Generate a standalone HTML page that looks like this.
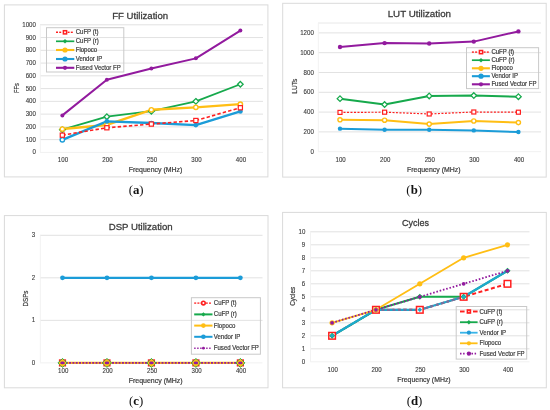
<!DOCTYPE html>
<html><head><meta charset="utf-8"><title>Charts</title>
<style>html,body{margin:0;padding:0;background:#fff;width:550px;height:410px;overflow:hidden}svg{display:block;will-change:transform}</style>
</head><body>
<svg width="550" height="410" viewBox="0 0 550 410">
<rect width="550" height="410" fill="#fff"/>
<rect x="4.40" y="4.90" width="263.50" height="172.00" fill="none" stroke="#DADADA" stroke-width="1"/>
<text x="140.20" y="19.30" font-size="9.7" text-anchor="middle" fill="#3a3a3a" stroke="#3a3a3a" stroke-width="0.28" font-family='"Liberation Sans", sans-serif' font-weight="normal" textLength="56.00" lengthAdjust="spacingAndGlyphs" >FF Utilization</text>
<line x1="40.00" y1="152.40" x2="263.00" y2="152.40" stroke="#F1F1F1" stroke-width="1" stroke-linecap="butt"/>
<text x="35.90" y="154.45"  font-size="6.8" text-anchor="end" fill="#3a3a3a" stroke="#3a3a3a" stroke-width="0.12" font-family='"Liberation Sans", sans-serif' textLength="3.40" lengthAdjust="spacingAndGlyphs">0</text>
<line x1="40.00" y1="139.64" x2="263.00" y2="139.64" stroke="#E2E2E2" stroke-width="1" stroke-linecap="butt"/>
<text x="35.90" y="141.69"  font-size="6.8" text-anchor="end" fill="#3a3a3a" stroke="#3a3a3a" stroke-width="0.12" font-family='"Liberation Sans", sans-serif' textLength="10.20" lengthAdjust="spacingAndGlyphs">100</text>
<line x1="40.00" y1="126.88" x2="263.00" y2="126.88" stroke="#E2E2E2" stroke-width="1" stroke-linecap="butt"/>
<text x="35.90" y="128.93"  font-size="6.8" text-anchor="end" fill="#3a3a3a" stroke="#3a3a3a" stroke-width="0.12" font-family='"Liberation Sans", sans-serif' textLength="10.20" lengthAdjust="spacingAndGlyphs">200</text>
<line x1="40.00" y1="114.12" x2="263.00" y2="114.12" stroke="#E2E2E2" stroke-width="1" stroke-linecap="butt"/>
<text x="35.90" y="116.17"  font-size="6.8" text-anchor="end" fill="#3a3a3a" stroke="#3a3a3a" stroke-width="0.12" font-family='"Liberation Sans", sans-serif' textLength="10.20" lengthAdjust="spacingAndGlyphs">300</text>
<line x1="40.00" y1="101.36" x2="263.00" y2="101.36" stroke="#E2E2E2" stroke-width="1" stroke-linecap="butt"/>
<text x="35.90" y="103.41"  font-size="6.8" text-anchor="end" fill="#3a3a3a" stroke="#3a3a3a" stroke-width="0.12" font-family='"Liberation Sans", sans-serif' textLength="10.20" lengthAdjust="spacingAndGlyphs">400</text>
<line x1="40.00" y1="88.60" x2="263.00" y2="88.60" stroke="#E2E2E2" stroke-width="1" stroke-linecap="butt"/>
<text x="35.90" y="90.65"  font-size="6.8" text-anchor="end" fill="#3a3a3a" stroke="#3a3a3a" stroke-width="0.12" font-family='"Liberation Sans", sans-serif' textLength="10.20" lengthAdjust="spacingAndGlyphs">500</text>
<line x1="40.00" y1="75.84" x2="263.00" y2="75.84" stroke="#E2E2E2" stroke-width="1" stroke-linecap="butt"/>
<text x="35.90" y="77.89"  font-size="6.8" text-anchor="end" fill="#3a3a3a" stroke="#3a3a3a" stroke-width="0.12" font-family='"Liberation Sans", sans-serif' textLength="10.20" lengthAdjust="spacingAndGlyphs">600</text>
<line x1="40.00" y1="63.08" x2="263.00" y2="63.08" stroke="#E2E2E2" stroke-width="1" stroke-linecap="butt"/>
<text x="35.90" y="65.13"  font-size="6.8" text-anchor="end" fill="#3a3a3a" stroke="#3a3a3a" stroke-width="0.12" font-family='"Liberation Sans", sans-serif' textLength="10.20" lengthAdjust="spacingAndGlyphs">700</text>
<line x1="40.00" y1="50.32" x2="263.00" y2="50.32" stroke="#E2E2E2" stroke-width="1" stroke-linecap="butt"/>
<text x="35.90" y="52.37"  font-size="6.8" text-anchor="end" fill="#3a3a3a" stroke="#3a3a3a" stroke-width="0.12" font-family='"Liberation Sans", sans-serif' textLength="10.20" lengthAdjust="spacingAndGlyphs">800</text>
<line x1="40.00" y1="37.56" x2="263.00" y2="37.56" stroke="#E2E2E2" stroke-width="1" stroke-linecap="butt"/>
<text x="35.90" y="39.61"  font-size="6.8" text-anchor="end" fill="#3a3a3a" stroke="#3a3a3a" stroke-width="0.12" font-family='"Liberation Sans", sans-serif' textLength="10.20" lengthAdjust="spacingAndGlyphs">900</text>
<line x1="40.00" y1="24.80" x2="263.00" y2="24.80" stroke="#E2E2E2" stroke-width="1" stroke-linecap="butt"/>
<text x="35.90" y="26.85"  font-size="6.8" text-anchor="end" fill="#3a3a3a" stroke="#3a3a3a" stroke-width="0.12" font-family='"Liberation Sans", sans-serif' textLength="13.60" lengthAdjust="spacingAndGlyphs">1000</text>
<line x1="40.30" y1="24.80" x2="40.30" y2="152.40" stroke="#F2F2F2" stroke-width="1" stroke-linecap="butt"/>
<text x="62.95" y="161.90"  font-size="6.8" text-anchor="middle" fill="#3a3a3a" stroke="#3a3a3a" stroke-width="0.12" font-family='"Liberation Sans", sans-serif' textLength="10.20" lengthAdjust="spacingAndGlyphs">100</text>
<text x="107.45" y="161.90"  font-size="6.8" text-anchor="middle" fill="#3a3a3a" stroke="#3a3a3a" stroke-width="0.12" font-family='"Liberation Sans", sans-serif' textLength="10.20" lengthAdjust="spacingAndGlyphs">200</text>
<text x="151.95" y="161.90"  font-size="6.8" text-anchor="middle" fill="#3a3a3a" stroke="#3a3a3a" stroke-width="0.12" font-family='"Liberation Sans", sans-serif' textLength="10.20" lengthAdjust="spacingAndGlyphs">250</text>
<text x="196.45" y="161.90"  font-size="6.8" text-anchor="middle" fill="#3a3a3a" stroke="#3a3a3a" stroke-width="0.12" font-family='"Liberation Sans", sans-serif' textLength="10.20" lengthAdjust="spacingAndGlyphs">300</text>
<text x="240.95" y="161.90"  font-size="6.8" text-anchor="middle" fill="#3a3a3a" stroke="#3a3a3a" stroke-width="0.12" font-family='"Liberation Sans", sans-serif' textLength="10.20" lengthAdjust="spacingAndGlyphs">400</text>
<text x="155.55" y="171.80" font-size="7" text-anchor="middle" fill="#3a3a3a" stroke="#3a3a3a" stroke-width="0.2" font-family='"Liberation Sans", sans-serif' font-weight="normal" textLength="53.70" lengthAdjust="spacingAndGlyphs" >Frequency (MHz)</text>
<text x="0" y="0" font-size="7" text-anchor="middle" dominant-baseline="central" fill="#3a3a3a" stroke="#3a3a3a" stroke-width="0.2" font-family='"Liberation Sans", sans-serif' transform="translate(16.00,88.00) rotate(-90)" textLength="9.80" lengthAdjust="spacingAndGlyphs">FFs</text>
<polyline points="62.35,115.40 106.85,79.67 151.35,68.57 195.85,58.36 240.35,30.54" fill="none" stroke="#921A9E" stroke-width="2" stroke-linecap="butt" stroke-linejoin="round"/>
<polyline points="62.35,129.69 106.85,116.67 151.35,111.19 195.85,101.36 240.35,84.26" fill="none" stroke="#16A94C" stroke-width="1.8" stroke-linecap="butt" stroke-linejoin="round"/>
<polyline points="62.35,129.05 106.85,124.97 151.35,109.78 195.85,107.36 240.35,104.17" fill="none" stroke="#FFBE14" stroke-width="2.4" stroke-linecap="butt" stroke-linejoin="round"/>
<polyline points="62.35,139.77 106.85,121.39 151.35,123.05 195.85,125.09 240.35,111.44" fill="none" stroke="#1B9CD8" stroke-width="2.4" stroke-linecap="butt" stroke-linejoin="round"/>
<polyline points="62.35,135.17 106.85,127.77 151.35,124.07 195.85,120.50 240.35,107.74" fill="none" stroke="#FF1F1F" stroke-width="1.6" stroke-dasharray="3.4,2.2" stroke-linecap="butt" stroke-linejoin="round"/>
<circle cx="62.35" cy="115.40" r="2" fill="#921A9E" stroke="none" stroke-width="0"/>
<circle cx="106.85" cy="79.67" r="2" fill="#921A9E" stroke="none" stroke-width="0"/>
<circle cx="151.35" cy="68.57" r="2" fill="#921A9E" stroke="none" stroke-width="0"/>
<circle cx="195.85" cy="58.36" r="2" fill="#921A9E" stroke="none" stroke-width="0"/>
<circle cx="240.35" cy="30.54" r="2" fill="#921A9E" stroke="none" stroke-width="0"/>
<polygon points="62.35,126.89 65.15,129.69 62.35,132.49 59.55,129.69" fill="#fff" stroke="#16A94C" stroke-width="1.3"/>
<polygon points="106.85,113.87 109.65,116.67 106.85,119.47 104.05,116.67" fill="#fff" stroke="#16A94C" stroke-width="1.3"/>
<polygon points="151.35,108.39 154.15,111.19 151.35,113.99 148.55,111.19" fill="#fff" stroke="#16A94C" stroke-width="1.3"/>
<polygon points="195.85,98.56 198.65,101.36 195.85,104.16 193.05,101.36" fill="#fff" stroke="#16A94C" stroke-width="1.3"/>
<polygon points="240.35,81.46 243.15,84.26 240.35,87.06 237.55,84.26" fill="#fff" stroke="#16A94C" stroke-width="1.3"/>
<circle cx="62.35" cy="129.05" r="2.2" fill="#fff" stroke="#FFBE14" stroke-width="1.4"/>
<circle cx="106.85" cy="124.97" r="2.2" fill="#fff" stroke="#FFBE14" stroke-width="1.4"/>
<circle cx="151.35" cy="109.78" r="2.2" fill="#fff" stroke="#FFBE14" stroke-width="1.4"/>
<circle cx="195.85" cy="107.36" r="2.2" fill="#fff" stroke="#FFBE14" stroke-width="1.4"/>
<circle cx="240.35" cy="104.17" r="2.2" fill="#fff" stroke="#FFBE14" stroke-width="1.4"/>
<circle cx="62.35" cy="139.77" r="2.2" fill="#fff" stroke="#1B9CD8" stroke-width="1.4"/>
<circle cx="106.85" cy="121.39" r="2.4" fill="#1B9CD8" stroke="none" stroke-width="0"/>
<circle cx="151.35" cy="123.05" r="2.4" fill="#1B9CD8" stroke="none" stroke-width="0"/>
<circle cx="195.85" cy="125.09" r="2.4" fill="#1B9CD8" stroke="none" stroke-width="0"/>
<circle cx="240.35" cy="111.44" r="2.4" fill="#1B9CD8" stroke="none" stroke-width="0"/>
<rect x="60.25" y="133.07" width="4.20" height="4.20" fill="#fff" stroke="#FF1F1F" stroke-width="1.2"/>
<rect x="104.75" y="125.67" width="4.20" height="4.20" fill="#fff" stroke="#FF1F1F" stroke-width="1.2"/>
<rect x="149.25" y="121.97" width="4.20" height="4.20" fill="#fff" stroke="#FF1F1F" stroke-width="1.2"/>
<rect x="193.75" y="118.40" width="4.20" height="4.20" fill="#fff" stroke="#FF1F1F" stroke-width="1.2"/>
<rect x="238.25" y="105.64" width="4.20" height="4.20" fill="#fff" stroke="#FF1F1F" stroke-width="1.2"/>
<rect x="46.50" y="27.70" width="77.30" height="44.30" fill="none" stroke="#C9C9C9" stroke-width="1"/>
<line x1="56.00" y1="32.30" x2="58.00" y2="32.30" stroke="#FF1F1F" stroke-width="1.4" stroke-linecap="butt"/>
<line x1="59.20" y1="32.30" x2="61.20" y2="32.30" stroke="#FF1F1F" stroke-width="1.4" stroke-linecap="butt"/>
<line x1="67.60" y1="32.30" x2="69.60" y2="32.30" stroke="#FF1F1F" stroke-width="1.4" stroke-linecap="butt"/>
<line x1="70.80" y1="32.30" x2="72.80" y2="32.30" stroke="#FF1F1F" stroke-width="1.4" stroke-linecap="butt"/>
<rect x="63.40" y="30.70" width="3.20" height="3.20" fill="#fff" stroke="#FF1F1F" stroke-width="1.5"/>
<text x="75.70" y="34.30" font-size="6.6" fill="#3a3a3a" stroke="#3a3a3a" stroke-width="0.2" font-family='"Liberation Sans", sans-serif' textLength="22.74" lengthAdjust="spacingAndGlyphs">CuFP (t)</text>
<line x1="56.00" y1="41.30" x2="74.30" y2="41.30" stroke="#16A94C" stroke-width="1.7" stroke-linecap="butt"/>
<polygon points="65.00,39.00 67.30,41.30 65.00,43.60 62.70,41.30" fill="#16A94C" stroke="#16A94C" stroke-width="0"/>
<text x="75.70" y="43.30" font-size="6.6" fill="#3a3a3a" stroke="#3a3a3a" stroke-width="0.2" font-family='"Liberation Sans", sans-serif' textLength="23.08" lengthAdjust="spacingAndGlyphs">CuFP (r)</text>
<line x1="56.00" y1="50.00" x2="74.30" y2="50.00" stroke="#FFBE14" stroke-width="2.1" stroke-linecap="butt"/>
<circle cx="65.00" cy="50.00" r="2.6" fill="#FFBE14" stroke="none" stroke-width="0"/>
<text x="75.70" y="52.00" font-size="6.6" fill="#3a3a3a" stroke="#3a3a3a" stroke-width="0.2" font-family='"Liberation Sans", sans-serif' textLength="21.52" lengthAdjust="spacingAndGlyphs">Flopoco</text>
<line x1="56.00" y1="59.00" x2="74.30" y2="59.00" stroke="#1B9CD8" stroke-width="2.1" stroke-linecap="butt"/>
<circle cx="65.00" cy="59.00" r="2.6" fill="#1B9CD8" stroke="none" stroke-width="0"/>
<text x="75.70" y="61.00" font-size="6.6" fill="#3a3a3a" stroke="#3a3a3a" stroke-width="0.2" font-family='"Liberation Sans", sans-serif' textLength="26.57" lengthAdjust="spacingAndGlyphs">Vendor IP</text>
<line x1="56.00" y1="67.80" x2="74.30" y2="67.80" stroke="#921A9E" stroke-width="2.1" stroke-linecap="butt"/>
<circle cx="65.00" cy="67.80" r="2.1" fill="#921A9E" stroke="none" stroke-width="0"/>
<text x="75.70" y="69.80" font-size="6.6" fill="#3a3a3a" stroke="#3a3a3a" stroke-width="0.2" font-family='"Liberation Sans", sans-serif' textLength="45.06" lengthAdjust="spacingAndGlyphs">Fused Vector FP</text>
<rect x="282.70" y="3.30" width="263.50" height="173.80" fill="none" stroke="#DADADA" stroke-width="1"/>
<text x="419.35" y="17.00" font-size="9.7" text-anchor="middle" fill="#3a3a3a" stroke="#3a3a3a" stroke-width="0.28" font-family='"Liberation Sans", sans-serif' font-weight="normal" textLength="63.30" lengthAdjust="spacingAndGlyphs" >LUT Utilization</text>
<line x1="318.00" y1="23.00" x2="541.00" y2="23.00" stroke="#E8E8E8" stroke-width="1" stroke-linecap="butt"/>
<line x1="318.00" y1="151.70" x2="541.00" y2="151.70" stroke="#F1F1F1" stroke-width="1" stroke-linecap="butt"/>
<text x="313.80" y="153.75"  font-size="6.8" text-anchor="end" fill="#3a3a3a" stroke="#3a3a3a" stroke-width="0.12" font-family='"Liberation Sans", sans-serif' textLength="3.40" lengthAdjust="spacingAndGlyphs">0</text>
<line x1="318.00" y1="131.90" x2="541.00" y2="131.90" stroke="#E2E2E2" stroke-width="1" stroke-linecap="butt"/>
<text x="313.80" y="133.95"  font-size="6.8" text-anchor="end" fill="#3a3a3a" stroke="#3a3a3a" stroke-width="0.12" font-family='"Liberation Sans", sans-serif' textLength="10.20" lengthAdjust="spacingAndGlyphs">200</text>
<line x1="318.00" y1="112.10" x2="541.00" y2="112.10" stroke="#E2E2E2" stroke-width="1" stroke-linecap="butt"/>
<text x="313.80" y="114.15"  font-size="6.8" text-anchor="end" fill="#3a3a3a" stroke="#3a3a3a" stroke-width="0.12" font-family='"Liberation Sans", sans-serif' textLength="10.20" lengthAdjust="spacingAndGlyphs">400</text>
<line x1="318.00" y1="92.30" x2="541.00" y2="92.30" stroke="#E2E2E2" stroke-width="1" stroke-linecap="butt"/>
<text x="313.80" y="94.35"  font-size="6.8" text-anchor="end" fill="#3a3a3a" stroke="#3a3a3a" stroke-width="0.12" font-family='"Liberation Sans", sans-serif' textLength="10.20" lengthAdjust="spacingAndGlyphs">600</text>
<line x1="318.00" y1="72.50" x2="541.00" y2="72.50" stroke="#E2E2E2" stroke-width="1" stroke-linecap="butt"/>
<text x="313.80" y="74.55"  font-size="6.8" text-anchor="end" fill="#3a3a3a" stroke="#3a3a3a" stroke-width="0.12" font-family='"Liberation Sans", sans-serif' textLength="10.20" lengthAdjust="spacingAndGlyphs">800</text>
<line x1="318.00" y1="52.70" x2="541.00" y2="52.70" stroke="#E2E2E2" stroke-width="1" stroke-linecap="butt"/>
<text x="313.80" y="54.75"  font-size="6.8" text-anchor="end" fill="#3a3a3a" stroke="#3a3a3a" stroke-width="0.12" font-family='"Liberation Sans", sans-serif' textLength="13.60" lengthAdjust="spacingAndGlyphs">1000</text>
<line x1="318.00" y1="32.90" x2="541.00" y2="32.90" stroke="#E2E2E2" stroke-width="1" stroke-linecap="butt"/>
<text x="313.80" y="34.95"  font-size="6.8" text-anchor="end" fill="#3a3a3a" stroke="#3a3a3a" stroke-width="0.12" font-family='"Liberation Sans", sans-serif' textLength="13.60" lengthAdjust="spacingAndGlyphs">1200</text>
<line x1="318.30" y1="23.00" x2="318.30" y2="151.70" stroke="#F2F2F2" stroke-width="1" stroke-linecap="butt"/>
<text x="340.60" y="161.90"  font-size="6.8" text-anchor="middle" fill="#3a3a3a" stroke="#3a3a3a" stroke-width="0.12" font-family='"Liberation Sans", sans-serif' textLength="10.20" lengthAdjust="spacingAndGlyphs">100</text>
<text x="385.20" y="161.90"  font-size="6.8" text-anchor="middle" fill="#3a3a3a" stroke="#3a3a3a" stroke-width="0.12" font-family='"Liberation Sans", sans-serif' textLength="10.20" lengthAdjust="spacingAndGlyphs">200</text>
<text x="429.80" y="161.90"  font-size="6.8" text-anchor="middle" fill="#3a3a3a" stroke="#3a3a3a" stroke-width="0.12" font-family='"Liberation Sans", sans-serif' textLength="10.20" lengthAdjust="spacingAndGlyphs">250</text>
<text x="474.40" y="161.90"  font-size="6.8" text-anchor="middle" fill="#3a3a3a" stroke="#3a3a3a" stroke-width="0.12" font-family='"Liberation Sans", sans-serif' textLength="10.20" lengthAdjust="spacingAndGlyphs">300</text>
<text x="519.00" y="161.90"  font-size="6.8" text-anchor="middle" fill="#3a3a3a" stroke="#3a3a3a" stroke-width="0.12" font-family='"Liberation Sans", sans-serif' textLength="10.20" lengthAdjust="spacingAndGlyphs">400</text>
<text x="433.75" y="171.60" font-size="7" text-anchor="middle" fill="#3a3a3a" stroke="#3a3a3a" stroke-width="0.2" font-family='"Liberation Sans", sans-serif' font-weight="normal" textLength="53.50" lengthAdjust="spacingAndGlyphs" >Frequency (MHz)</text>
<text x="0" y="0" font-size="7" text-anchor="middle" dominant-baseline="central" fill="#3a3a3a" stroke="#3a3a3a" stroke-width="0.2" font-family='"Liberation Sans", sans-serif' transform="translate(294.50,86.20) rotate(-90)" textLength="15.00" lengthAdjust="spacingAndGlyphs">LUTs</text>
<polyline points="340.00,46.96 384.60,43.10 429.20,43.49 473.80,41.61 518.40,31.41" fill="none" stroke="#921A9E" stroke-width="2" stroke-linecap="butt" stroke-linejoin="round"/>
<polyline points="340.00,98.64 384.60,104.58 429.20,95.96 473.80,95.57 518.40,96.66" fill="none" stroke="#16A94C" stroke-width="2" stroke-linecap="butt" stroke-linejoin="round"/>
<polyline points="340.00,119.82 384.60,120.22 429.20,124.08 473.80,121.01 518.40,122.59" fill="none" stroke="#FFBE14" stroke-width="2" stroke-linecap="butt" stroke-linejoin="round"/>
<polyline points="340.00,128.63 384.60,129.82 429.20,129.82 473.80,130.41 518.40,132.00" fill="none" stroke="#1B9CD8" stroke-width="2" stroke-linecap="butt" stroke-linejoin="round"/>
<polyline points="340.00,112.40 384.60,112.20 429.20,113.98 473.80,112.00 518.40,112.20" fill="none" stroke="#FF1F1F" stroke-width="1.2" stroke-dasharray="2,1.5" stroke-linecap="butt" stroke-linejoin="round"/>
<circle cx="340.00" cy="46.96" r="2.2" fill="#921A9E" stroke="none" stroke-width="0"/>
<circle cx="384.60" cy="43.10" r="2.2" fill="#921A9E" stroke="none" stroke-width="0"/>
<circle cx="429.20" cy="43.49" r="2.2" fill="#921A9E" stroke="none" stroke-width="0"/>
<circle cx="473.80" cy="41.61" r="2.2" fill="#921A9E" stroke="none" stroke-width="0"/>
<circle cx="518.40" cy="31.41" r="2.2" fill="#921A9E" stroke="none" stroke-width="0"/>
<polygon points="340.00,95.84 342.80,98.64 340.00,101.44 337.20,98.64" fill="#fff" stroke="#16A94C" stroke-width="1.3"/>
<polygon points="384.60,101.78 387.40,104.58 384.60,107.38 381.80,104.58" fill="#fff" stroke="#16A94C" stroke-width="1.3"/>
<polygon points="429.20,93.16 432.00,95.96 429.20,98.76 426.40,95.96" fill="#fff" stroke="#16A94C" stroke-width="1.3"/>
<polygon points="473.80,92.77 476.60,95.57 473.80,98.37 471.00,95.57" fill="#fff" stroke="#16A94C" stroke-width="1.3"/>
<polygon points="518.40,93.86 521.20,96.66 518.40,99.46 515.60,96.66" fill="#fff" stroke="#16A94C" stroke-width="1.3"/>
<circle cx="340.00" cy="119.82" r="2.1" fill="#fff" stroke="#FFBE14" stroke-width="1.4"/>
<circle cx="384.60" cy="120.22" r="2.1" fill="#fff" stroke="#FFBE14" stroke-width="1.4"/>
<circle cx="429.20" cy="124.08" r="2.1" fill="#fff" stroke="#FFBE14" stroke-width="1.4"/>
<circle cx="473.80" cy="121.01" r="2.1" fill="#fff" stroke="#FFBE14" stroke-width="1.4"/>
<circle cx="518.40" cy="122.59" r="2.1" fill="#fff" stroke="#FFBE14" stroke-width="1.4"/>
<circle cx="340.00" cy="128.63" r="2.2" fill="#1B9CD8" stroke="none" stroke-width="0"/>
<circle cx="384.60" cy="129.82" r="2.2" fill="#1B9CD8" stroke="none" stroke-width="0"/>
<circle cx="429.20" cy="129.82" r="2.2" fill="#1B9CD8" stroke="none" stroke-width="0"/>
<circle cx="473.80" cy="130.41" r="2.2" fill="#1B9CD8" stroke="none" stroke-width="0"/>
<circle cx="518.40" cy="132.00" r="2.2" fill="#1B9CD8" stroke="none" stroke-width="0"/>
<rect x="338.00" y="110.40" width="4.00" height="4.00" fill="#fff" stroke="#FF1F1F" stroke-width="1.2"/>
<rect x="382.60" y="110.20" width="4.00" height="4.00" fill="#fff" stroke="#FF1F1F" stroke-width="1.2"/>
<rect x="427.20" y="111.98" width="4.00" height="4.00" fill="#fff" stroke="#FF1F1F" stroke-width="1.2"/>
<rect x="471.80" y="110.00" width="4.00" height="4.00" fill="#fff" stroke="#FF1F1F" stroke-width="1.2"/>
<rect x="516.40" y="110.20" width="4.00" height="4.00" fill="#fff" stroke="#FF1F1F" stroke-width="1.2"/>
<rect x="466.50" y="47.70" width="72.10" height="40.90" fill="none" stroke="#C9C9C9" stroke-width="1"/>
<line x1="471.90" y1="52.10" x2="473.90" y2="52.10" stroke="#FF1F1F" stroke-width="1.4" stroke-linecap="butt"/>
<line x1="475.10" y1="52.10" x2="477.10" y2="52.10" stroke="#FF1F1F" stroke-width="1.4" stroke-linecap="butt"/>
<line x1="483.60" y1="52.10" x2="485.60" y2="52.10" stroke="#FF1F1F" stroke-width="1.4" stroke-linecap="butt"/>
<line x1="486.80" y1="52.10" x2="488.80" y2="52.10" stroke="#FF1F1F" stroke-width="1.4" stroke-linecap="butt"/>
<rect x="479.40" y="50.50" width="3.20" height="3.20" fill="#fff" stroke="#FF1F1F" stroke-width="1.5"/>
<text x="491.40" y="54.10" font-size="6.6" fill="#3a3a3a" stroke="#3a3a3a" stroke-width="0.2" font-family='"Liberation Sans", sans-serif' textLength="22.74" lengthAdjust="spacingAndGlyphs">CuFP (t)</text>
<line x1="471.90" y1="60.20" x2="489.90" y2="60.20" stroke="#16A94C" stroke-width="1.7" stroke-linecap="butt"/>
<polygon points="481.00,57.90 483.30,60.20 481.00,62.50 478.70,60.20" fill="#16A94C" stroke="#16A94C" stroke-width="0"/>
<text x="491.40" y="62.20" font-size="6.6" fill="#3a3a3a" stroke="#3a3a3a" stroke-width="0.2" font-family='"Liberation Sans", sans-serif' textLength="23.08" lengthAdjust="spacingAndGlyphs">CuFP (r)</text>
<line x1="471.90" y1="68.30" x2="489.90" y2="68.30" stroke="#FFBE14" stroke-width="2.1" stroke-linecap="butt"/>
<circle cx="481.00" cy="68.30" r="2.6" fill="#FFBE14" stroke="none" stroke-width="0"/>
<text x="491.40" y="70.30" font-size="6.6" fill="#3a3a3a" stroke="#3a3a3a" stroke-width="0.2" font-family='"Liberation Sans", sans-serif' textLength="21.52" lengthAdjust="spacingAndGlyphs">Flopoco</text>
<line x1="471.90" y1="76.20" x2="489.90" y2="76.20" stroke="#1B9CD8" stroke-width="2.1" stroke-linecap="butt"/>
<circle cx="481.00" cy="76.20" r="2.6" fill="#1B9CD8" stroke="none" stroke-width="0"/>
<text x="491.40" y="78.20" font-size="6.6" fill="#3a3a3a" stroke="#3a3a3a" stroke-width="0.2" font-family='"Liberation Sans", sans-serif' textLength="26.57" lengthAdjust="spacingAndGlyphs">Vendor IP</text>
<line x1="471.90" y1="84.30" x2="489.90" y2="84.30" stroke="#921A9E" stroke-width="2.1" stroke-linecap="butt"/>
<circle cx="481.00" cy="84.30" r="2.1" fill="#921A9E" stroke="none" stroke-width="0"/>
<text x="491.40" y="86.30" font-size="6.6" fill="#3a3a3a" stroke="#3a3a3a" stroke-width="0.2" font-family='"Liberation Sans", sans-serif' textLength="45.06" lengthAdjust="spacingAndGlyphs">Fused Vector FP</text>
<rect x="4.40" y="215.60" width="263.60" height="172.20" fill="none" stroke="#DADADA" stroke-width="1"/>
<text x="140.70" y="229.60" font-size="9.7" text-anchor="middle" fill="#3a3a3a" stroke="#3a3a3a" stroke-width="0.28" font-family='"Liberation Sans", sans-serif' font-weight="normal" textLength="64.00" lengthAdjust="spacingAndGlyphs" >DSP Utilization</text>
<line x1="40.00" y1="362.90" x2="262.50" y2="362.90" stroke="#F1F1F1" stroke-width="1" stroke-linecap="butt"/>
<text x="33.40" y="364.90"  font-size="6.8" text-anchor="middle" fill="#3a3a3a" stroke="#3a3a3a" stroke-width="0.12" font-family='"Liberation Sans", sans-serif' textLength="3.40" lengthAdjust="spacingAndGlyphs">0</text>
<line x1="40.00" y1="320.37" x2="262.50" y2="320.37" stroke="#E2E2E2" stroke-width="1" stroke-linecap="butt"/>
<text x="33.40" y="322.37"  font-size="6.8" text-anchor="middle" fill="#3a3a3a" stroke="#3a3a3a" stroke-width="0.12" font-family='"Liberation Sans", sans-serif' textLength="3.40" lengthAdjust="spacingAndGlyphs">1</text>
<line x1="40.00" y1="277.84" x2="262.50" y2="277.84" stroke="#E2E2E2" stroke-width="1" stroke-linecap="butt"/>
<text x="33.40" y="279.84"  font-size="6.8" text-anchor="middle" fill="#3a3a3a" stroke="#3a3a3a" stroke-width="0.12" font-family='"Liberation Sans", sans-serif' textLength="3.40" lengthAdjust="spacingAndGlyphs">2</text>
<line x1="40.00" y1="235.31" x2="262.50" y2="235.31" stroke="#E2E2E2" stroke-width="1" stroke-linecap="butt"/>
<text x="33.40" y="237.31"  font-size="6.8" text-anchor="middle" fill="#3a3a3a" stroke="#3a3a3a" stroke-width="0.12" font-family='"Liberation Sans", sans-serif' textLength="3.40" lengthAdjust="spacingAndGlyphs">3</text>
<line x1="40.30" y1="235.30" x2="40.30" y2="362.90" stroke="#F2F2F2" stroke-width="1" stroke-linecap="butt"/>
<text x="63.20" y="372.60"  font-size="6.8" text-anchor="middle" fill="#3a3a3a" stroke="#3a3a3a" stroke-width="0.12" font-family='"Liberation Sans", sans-serif' textLength="10.20" lengthAdjust="spacingAndGlyphs">100</text>
<text x="107.67" y="372.60"  font-size="6.8" text-anchor="middle" fill="#3a3a3a" stroke="#3a3a3a" stroke-width="0.12" font-family='"Liberation Sans", sans-serif' textLength="10.20" lengthAdjust="spacingAndGlyphs">200</text>
<text x="152.14" y="372.60"  font-size="6.8" text-anchor="middle" fill="#3a3a3a" stroke="#3a3a3a" stroke-width="0.12" font-family='"Liberation Sans", sans-serif' textLength="10.20" lengthAdjust="spacingAndGlyphs">250</text>
<text x="196.61" y="372.60"  font-size="6.8" text-anchor="middle" fill="#3a3a3a" stroke="#3a3a3a" stroke-width="0.12" font-family='"Liberation Sans", sans-serif' textLength="10.20" lengthAdjust="spacingAndGlyphs">300</text>
<text x="241.08" y="372.60"  font-size="6.8" text-anchor="middle" fill="#3a3a3a" stroke="#3a3a3a" stroke-width="0.12" font-family='"Liberation Sans", sans-serif' textLength="10.20" lengthAdjust="spacingAndGlyphs">400</text>
<text x="155.70" y="383.10" font-size="7" text-anchor="middle" fill="#3a3a3a" stroke="#3a3a3a" stroke-width="0.2" font-family='"Liberation Sans", sans-serif' font-weight="normal" textLength="54.00" lengthAdjust="spacingAndGlyphs" >Frequency (MHz)</text>
<text x="0" y="0" font-size="7" text-anchor="middle" dominant-baseline="central" fill="#3a3a3a" stroke="#3a3a3a" stroke-width="0.2" font-family='"Liberation Sans", sans-serif' transform="translate(25.30,298.50) rotate(-90)" textLength="16.00" lengthAdjust="spacingAndGlyphs">DSPs</text>
<polyline points="62.50,277.84 106.97,277.84 151.44,277.84 195.91,277.84 240.38,277.84" fill="none" stroke="#1B9CD8" stroke-width="2.2" stroke-linecap="butt" stroke-linejoin="round"/>
<circle cx="62.50" cy="277.84" r="2.4" fill="#1B9CD8" stroke="none" stroke-width="0"/>
<circle cx="106.97" cy="277.84" r="2.4" fill="#1B9CD8" stroke="none" stroke-width="0"/>
<circle cx="151.44" cy="277.84" r="2.4" fill="#1B9CD8" stroke="none" stroke-width="0"/>
<circle cx="195.91" cy="277.84" r="2.4" fill="#1B9CD8" stroke="none" stroke-width="0"/>
<circle cx="240.38" cy="277.84" r="2.4" fill="#1B9CD8" stroke="none" stroke-width="0"/>
<polyline points="62.50,362.90 106.97,362.90 151.44,362.90 195.91,362.90 240.38,362.90" fill="none" stroke="#FFBE14" stroke-width="2.2" stroke-linecap="butt" stroke-linejoin="round"/>
<polyline points="62.50,362.90 106.97,362.90 151.44,362.90 195.91,362.90 240.38,362.90" fill="none" stroke="#921A9E" stroke-width="1.7" stroke-dasharray="2.0,1.3" stroke-linecap="butt" stroke-linejoin="round"/>
<rect x="58.90" y="359.30" width="7.20" height="7.20" fill="#FF1F1F" stroke="#FF1F1F" stroke-width="0"/>
<polygon points="62.50,358.40 67.00,362.90 62.50,367.40 58.00,362.90" fill="#FFBE14" stroke="#16A94C" stroke-width="0.9"/>
<circle cx="62.50" cy="362.90" r="2.9" fill="#FFBE14" stroke="none" stroke-width="0"/>
<ellipse cx="62.50" cy="362.90" rx="2.3" ry="1.4" fill="#921A9E"/>
<rect x="103.37" y="359.30" width="7.20" height="7.20" fill="#FF1F1F" stroke="#FF1F1F" stroke-width="0"/>
<polygon points="106.97,358.40 111.47,362.90 106.97,367.40 102.47,362.90" fill="#FFBE14" stroke="#16A94C" stroke-width="0.9"/>
<circle cx="106.97" cy="362.90" r="2.9" fill="#FFBE14" stroke="none" stroke-width="0"/>
<ellipse cx="106.97" cy="362.90" rx="2.3" ry="1.4" fill="#921A9E"/>
<rect x="147.84" y="359.30" width="7.20" height="7.20" fill="#FF1F1F" stroke="#FF1F1F" stroke-width="0"/>
<polygon points="151.44,358.40 155.94,362.90 151.44,367.40 146.94,362.90" fill="#FFBE14" stroke="#16A94C" stroke-width="0.9"/>
<circle cx="151.44" cy="362.90" r="2.9" fill="#FFBE14" stroke="none" stroke-width="0"/>
<ellipse cx="151.44" cy="362.90" rx="2.3" ry="1.4" fill="#921A9E"/>
<rect x="192.31" y="359.30" width="7.20" height="7.20" fill="#FF1F1F" stroke="#FF1F1F" stroke-width="0"/>
<polygon points="195.91,358.40 200.41,362.90 195.91,367.40 191.41,362.90" fill="#FFBE14" stroke="#16A94C" stroke-width="0.9"/>
<circle cx="195.91" cy="362.90" r="2.9" fill="#FFBE14" stroke="none" stroke-width="0"/>
<ellipse cx="195.91" cy="362.90" rx="2.3" ry="1.4" fill="#921A9E"/>
<rect x="236.78" y="359.30" width="7.20" height="7.20" fill="#FF1F1F" stroke="#FF1F1F" stroke-width="0"/>
<polygon points="240.38,358.40 244.88,362.90 240.38,367.40 235.88,362.90" fill="#FFBE14" stroke="#16A94C" stroke-width="0.9"/>
<circle cx="240.38" cy="362.90" r="2.9" fill="#FFBE14" stroke="none" stroke-width="0"/>
<ellipse cx="240.38" cy="362.90" rx="2.3" ry="1.4" fill="#921A9E"/>
<rect x="191.40" y="297.70" width="69.00" height="56.50" fill="none" stroke="#C9C9C9" stroke-width="1"/>
<line x1="194.20" y1="303.10" x2="196.20" y2="303.10" stroke="#FF1F1F" stroke-width="1.3" stroke-linecap="butt"/>
<line x1="197.40" y1="303.10" x2="199.40" y2="303.10" stroke="#FF1F1F" stroke-width="1.3" stroke-linecap="butt"/>
<line x1="200.60" y1="303.10" x2="201.00" y2="303.10" stroke="#FF1F1F" stroke-width="1.3" stroke-linecap="butt"/>
<line x1="205.80" y1="303.10" x2="207.80" y2="303.10" stroke="#FF1F1F" stroke-width="1.3" stroke-linecap="butt"/>
<line x1="209.00" y1="303.10" x2="211.00" y2="303.10" stroke="#FF1F1F" stroke-width="1.3" stroke-linecap="butt"/>
<circle cx="203.40" cy="303.10" r="1.8" fill="#fff" stroke="#FF1F1F" stroke-width="1.6"/>
<text x="213.80" y="305.10" font-size="6.6" fill="#3a3a3a" stroke="#3a3a3a" stroke-width="0.2" font-family='"Liberation Sans", sans-serif' textLength="22.74" lengthAdjust="spacingAndGlyphs">CuFP (t)</text>
<line x1="194.20" y1="314.40" x2="212.50" y2="314.40" stroke="#16A94C" stroke-width="2.0" stroke-linecap="butt"/>
<polygon points="203.40,312.20 205.60,314.40 203.40,316.60 201.20,314.40" fill="#16A94C" stroke="#16A94C" stroke-width="0"/>
<text x="213.80" y="316.40" font-size="6.6" fill="#3a3a3a" stroke="#3a3a3a" stroke-width="0.2" font-family='"Liberation Sans", sans-serif' textLength="23.08" lengthAdjust="spacingAndGlyphs">CuFP (r)</text>
<line x1="194.20" y1="325.60" x2="212.50" y2="325.60" stroke="#FFBE14" stroke-width="2.0" stroke-linecap="butt"/>
<circle cx="203.40" cy="325.60" r="2.3" fill="#FFBE14" stroke="none" stroke-width="0"/>
<text x="213.80" y="327.60" font-size="6.6" fill="#3a3a3a" stroke="#3a3a3a" stroke-width="0.2" font-family='"Liberation Sans", sans-serif' textLength="21.52" lengthAdjust="spacingAndGlyphs">Flopoco</text>
<line x1="194.20" y1="336.80" x2="212.50" y2="336.80" stroke="#1B9CD8" stroke-width="2.0" stroke-linecap="butt"/>
<circle cx="203.40" cy="336.80" r="2.3" fill="#1B9CD8" stroke="none" stroke-width="0"/>
<text x="213.80" y="338.80" font-size="6.6" fill="#3a3a3a" stroke="#3a3a3a" stroke-width="0.2" font-family='"Liberation Sans", sans-serif' textLength="26.57" lengthAdjust="spacingAndGlyphs">Vendor IP</text>
<line x1="194.20" y1="348.20" x2="195.60" y2="348.20" stroke="#921A9E" stroke-width="1.5" stroke-linecap="butt"/>
<line x1="197.20" y1="348.20" x2="198.60" y2="348.20" stroke="#921A9E" stroke-width="1.5" stroke-linecap="butt"/>
<line x1="200.20" y1="348.20" x2="201.60" y2="348.20" stroke="#921A9E" stroke-width="1.5" stroke-linecap="butt"/>
<line x1="203.20" y1="348.20" x2="204.60" y2="348.20" stroke="#921A9E" stroke-width="1.5" stroke-linecap="butt"/>
<line x1="206.20" y1="348.20" x2="207.60" y2="348.20" stroke="#921A9E" stroke-width="1.5" stroke-linecap="butt"/>
<line x1="209.20" y1="348.20" x2="210.60" y2="348.20" stroke="#921A9E" stroke-width="1.5" stroke-linecap="butt"/>
<circle cx="203.40" cy="348.20" r="1.4" fill="#921A9E" stroke="none" stroke-width="0"/>
<text x="213.80" y="350.20" font-size="6.6" fill="#3a3a3a" stroke="#3a3a3a" stroke-width="0.2" font-family='"Liberation Sans", sans-serif' textLength="45.06" lengthAdjust="spacingAndGlyphs">Fused Vector FP</text>
<rect x="282.60" y="212.40" width="263.70" height="175.40" fill="none" stroke="#DADADA" stroke-width="1"/>
<text x="415.45" y="225.50" font-size="9.3" text-anchor="middle" fill="#3a3a3a" stroke="#3a3a3a" stroke-width="0.28" font-family='"Liberation Sans", sans-serif' font-weight="normal" textLength="27.00" lengthAdjust="spacingAndGlyphs" >Cycles</text>
<line x1="310.20" y1="361.80" x2="529.50" y2="361.80" stroke="#F1F1F1" stroke-width="1" stroke-linecap="butt"/>
<text x="303.40" y="363.85"  font-size="6.8" text-anchor="middle" fill="#3a3a3a" stroke="#3a3a3a" stroke-width="0.12" font-family='"Liberation Sans", sans-serif' textLength="3.40" lengthAdjust="spacingAndGlyphs">0</text>
<line x1="310.20" y1="348.80" x2="529.50" y2="348.80" stroke="#E2E2E2" stroke-width="1" stroke-linecap="butt"/>
<text x="303.40" y="350.85"  font-size="6.8" text-anchor="middle" fill="#3a3a3a" stroke="#3a3a3a" stroke-width="0.12" font-family='"Liberation Sans", sans-serif' textLength="3.40" lengthAdjust="spacingAndGlyphs">1</text>
<line x1="310.20" y1="335.80" x2="529.50" y2="335.80" stroke="#E2E2E2" stroke-width="1" stroke-linecap="butt"/>
<text x="303.40" y="337.85"  font-size="6.8" text-anchor="middle" fill="#3a3a3a" stroke="#3a3a3a" stroke-width="0.12" font-family='"Liberation Sans", sans-serif' textLength="3.40" lengthAdjust="spacingAndGlyphs">2</text>
<line x1="310.20" y1="322.80" x2="529.50" y2="322.80" stroke="#E2E2E2" stroke-width="1" stroke-linecap="butt"/>
<text x="303.40" y="324.85"  font-size="6.8" text-anchor="middle" fill="#3a3a3a" stroke="#3a3a3a" stroke-width="0.12" font-family='"Liberation Sans", sans-serif' textLength="3.40" lengthAdjust="spacingAndGlyphs">3</text>
<line x1="310.20" y1="309.80" x2="529.50" y2="309.80" stroke="#E2E2E2" stroke-width="1" stroke-linecap="butt"/>
<text x="303.40" y="311.85"  font-size="6.8" text-anchor="middle" fill="#3a3a3a" stroke="#3a3a3a" stroke-width="0.12" font-family='"Liberation Sans", sans-serif' textLength="3.40" lengthAdjust="spacingAndGlyphs">4</text>
<line x1="310.20" y1="296.80" x2="529.50" y2="296.80" stroke="#E2E2E2" stroke-width="1" stroke-linecap="butt"/>
<text x="303.40" y="298.85"  font-size="6.8" text-anchor="middle" fill="#3a3a3a" stroke="#3a3a3a" stroke-width="0.12" font-family='"Liberation Sans", sans-serif' textLength="3.40" lengthAdjust="spacingAndGlyphs">5</text>
<line x1="310.20" y1="283.80" x2="529.50" y2="283.80" stroke="#E2E2E2" stroke-width="1" stroke-linecap="butt"/>
<text x="303.40" y="285.85"  font-size="6.8" text-anchor="middle" fill="#3a3a3a" stroke="#3a3a3a" stroke-width="0.12" font-family='"Liberation Sans", sans-serif' textLength="3.40" lengthAdjust="spacingAndGlyphs">6</text>
<line x1="310.20" y1="270.80" x2="529.50" y2="270.80" stroke="#E2E2E2" stroke-width="1" stroke-linecap="butt"/>
<text x="303.40" y="272.85"  font-size="6.8" text-anchor="middle" fill="#3a3a3a" stroke="#3a3a3a" stroke-width="0.12" font-family='"Liberation Sans", sans-serif' textLength="3.40" lengthAdjust="spacingAndGlyphs">7</text>
<line x1="310.20" y1="257.80" x2="529.50" y2="257.80" stroke="#E2E2E2" stroke-width="1" stroke-linecap="butt"/>
<text x="303.40" y="259.85"  font-size="6.8" text-anchor="middle" fill="#3a3a3a" stroke="#3a3a3a" stroke-width="0.12" font-family='"Liberation Sans", sans-serif' textLength="3.40" lengthAdjust="spacingAndGlyphs">8</text>
<line x1="310.20" y1="244.80" x2="529.50" y2="244.80" stroke="#E2E2E2" stroke-width="1" stroke-linecap="butt"/>
<text x="303.40" y="246.85"  font-size="6.8" text-anchor="middle" fill="#3a3a3a" stroke="#3a3a3a" stroke-width="0.12" font-family='"Liberation Sans", sans-serif' textLength="3.40" lengthAdjust="spacingAndGlyphs">9</text>
<line x1="310.20" y1="231.80" x2="529.50" y2="231.80" stroke="#E2E2E2" stroke-width="1" stroke-linecap="butt"/>
<text x="302.00" y="233.85"  font-size="6.8" text-anchor="middle" fill="#3a3a3a" stroke="#3a3a3a" stroke-width="0.12" font-family='"Liberation Sans", sans-serif' textLength="6.80" lengthAdjust="spacingAndGlyphs">10</text>
<line x1="310.50" y1="231.80" x2="310.50" y2="361.80" stroke="#F2F2F2" stroke-width="1" stroke-linecap="butt"/>
<text x="332.70" y="372.20"  font-size="6.8" text-anchor="middle" fill="#3a3a3a" stroke="#3a3a3a" stroke-width="0.12" font-family='"Liberation Sans", sans-serif' textLength="10.20" lengthAdjust="spacingAndGlyphs">100</text>
<text x="376.55" y="372.20"  font-size="6.8" text-anchor="middle" fill="#3a3a3a" stroke="#3a3a3a" stroke-width="0.12" font-family='"Liberation Sans", sans-serif' textLength="10.20" lengthAdjust="spacingAndGlyphs">200</text>
<text x="420.40" y="372.20"  font-size="6.8" text-anchor="middle" fill="#3a3a3a" stroke="#3a3a3a" stroke-width="0.12" font-family='"Liberation Sans", sans-serif' textLength="10.20" lengthAdjust="spacingAndGlyphs">250</text>
<text x="464.25" y="372.20"  font-size="6.8" text-anchor="middle" fill="#3a3a3a" stroke="#3a3a3a" stroke-width="0.12" font-family='"Liberation Sans", sans-serif' textLength="10.20" lengthAdjust="spacingAndGlyphs">300</text>
<text x="508.10" y="372.20"  font-size="6.8" text-anchor="middle" fill="#3a3a3a" stroke="#3a3a3a" stroke-width="0.12" font-family='"Liberation Sans", sans-serif' textLength="10.20" lengthAdjust="spacingAndGlyphs">400</text>
<text x="423.95" y="382.10" font-size="7" text-anchor="middle" fill="#3a3a3a" stroke="#3a3a3a" stroke-width="0.2" font-family='"Liberation Sans", sans-serif' font-weight="normal" textLength="53.50" lengthAdjust="spacingAndGlyphs" >Frequency (MHz)</text>
<text x="0" y="0" font-size="7" text-anchor="middle" dominant-baseline="central" fill="#3a3a3a" stroke="#3a3a3a" stroke-width="0.2" font-family='"Liberation Sans", sans-serif' transform="translate(292.70,296.30) rotate(-90)" textLength="19.00" lengthAdjust="spacingAndGlyphs">Cycles</text>
<polyline points="332.10,335.80 375.95,309.80 419.80,309.80 463.65,296.80 507.50,283.80" fill="none" stroke="#FF1F1F" stroke-width="2" stroke-dasharray="4,2.5" stroke-linecap="butt" stroke-linejoin="round"/>
<polyline points="332.10,335.80 375.95,309.80 419.80,296.80 463.65,296.80 507.50,270.80" fill="none" stroke="#16A94C" stroke-width="2" stroke-linecap="butt" stroke-linejoin="round"/>
<polyline points="332.10,335.80 375.95,309.80 419.80,309.80 463.65,296.80 507.50,270.80" fill="none" stroke="#1CA9CC" stroke-width="2.2" stroke-linecap="butt" stroke-linejoin="round"/>
<polyline points="375.95,309.80 419.80,309.80 463.65,296.80" fill="none" stroke="#7a6f9e" stroke-width="2.2" stroke-dasharray="3,2.5" stroke-linecap="butt" stroke-linejoin="round"/>
<polyline points="332.10,322.80 375.95,309.80 419.80,283.80 463.65,257.80 507.50,244.80" fill="none" stroke="#FFBE14" stroke-width="1.8" stroke-linecap="butt" stroke-linejoin="round"/>
<polyline points="332.10,322.80 375.95,309.80 419.80,296.80 463.65,283.80 507.50,270.80" fill="none" stroke="#921A9E" stroke-width="1.8" stroke-dasharray="1.6,1.8" stroke-linecap="butt" stroke-linejoin="round"/>
<rect x="328.80" y="332.50" width="6.60" height="6.60" fill="#fff" stroke="#FF1F1F" stroke-width="1.5"/>
<rect x="372.65" y="306.50" width="6.60" height="6.60" fill="#fff" stroke="#FF1F1F" stroke-width="1.5"/>
<rect x="416.50" y="306.50" width="6.60" height="6.60" fill="#fff" stroke="#FF1F1F" stroke-width="1.5"/>
<rect x="460.35" y="293.50" width="6.60" height="6.60" fill="#fff" stroke="#FF1F1F" stroke-width="1.5"/>
<rect x="504.20" y="280.50" width="6.60" height="6.60" fill="#fff" stroke="#FF1F1F" stroke-width="1.5"/>
<polygon points="332.10,332.80 335.10,335.80 332.10,338.80 329.10,335.80" fill="#16A94C" stroke="#16A94C" stroke-width="0"/>
<polygon points="375.95,306.80 378.95,309.80 375.95,312.80 372.95,309.80" fill="#16A94C" stroke="#16A94C" stroke-width="0"/>
<polygon points="419.80,293.80 422.80,296.80 419.80,299.80 416.80,296.80" fill="#16A94C" stroke="#16A94C" stroke-width="0"/>
<polygon points="463.65,293.80 466.65,296.80 463.65,299.80 460.65,296.80" fill="#16A94C" stroke="#16A94C" stroke-width="0"/>
<polygon points="507.50,267.80 510.50,270.80 507.50,273.80 504.50,270.80" fill="#16A94C" stroke="#16A94C" stroke-width="0"/>
<polygon points="332.10,333.50 334.40,335.80 332.10,338.10 329.80,335.80" fill="#1CA9CC" stroke="#1CA9CC" stroke-width="0"/>
<polygon points="375.95,307.50 378.25,309.80 375.95,312.10 373.65,309.80" fill="#1CA9CC" stroke="#1CA9CC" stroke-width="0"/>
<polygon points="419.80,307.50 422.10,309.80 419.80,312.10 417.50,309.80" fill="#1CA9CC" stroke="#1CA9CC" stroke-width="0"/>
<polygon points="463.65,294.50 465.95,296.80 463.65,299.10 461.35,296.80" fill="#1CA9CC" stroke="#1CA9CC" stroke-width="0"/>
<polygon points="507.50,268.50 509.80,270.80 507.50,273.10 505.20,270.80" fill="#1CA9CC" stroke="#1CA9CC" stroke-width="0"/>
<circle cx="332.10" cy="322.80" r="2.6" fill="#FFBE14" stroke="none" stroke-width="0"/>
<circle cx="375.95" cy="309.80" r="2.6" fill="#FFBE14" stroke="none" stroke-width="0"/>
<circle cx="419.80" cy="283.80" r="2.6" fill="#FFBE14" stroke="none" stroke-width="0"/>
<circle cx="463.65" cy="257.80" r="2.6" fill="#FFBE14" stroke="none" stroke-width="0"/>
<circle cx="507.50" cy="244.80" r="2.6" fill="#FFBE14" stroke="none" stroke-width="0"/>
<circle cx="332.10" cy="322.80" r="1.9" fill="#921A9E" stroke="none" stroke-width="0"/>
<circle cx="375.95" cy="309.80" r="1.9" fill="#921A9E" stroke="none" stroke-width="0"/>
<circle cx="419.80" cy="296.80" r="1.9" fill="#921A9E" stroke="none" stroke-width="0"/>
<circle cx="463.65" cy="283.80" r="1.9" fill="#921A9E" stroke="none" stroke-width="0"/>
<circle cx="507.50" cy="270.80" r="1.9" fill="#921A9E" stroke="none" stroke-width="0"/>
<rect x="456.20" y="306.50" width="70.50" height="52.60" fill="none" stroke="#C9C9C9" stroke-width="1"/>
<line x1="460.00" y1="311.50" x2="464.60" y2="311.50" stroke="#FF1F1F" stroke-width="1.9" stroke-linecap="butt"/>
<line x1="473.00" y1="311.50" x2="477.60" y2="311.50" stroke="#FF1F1F" stroke-width="1.9" stroke-linecap="butt"/>
<rect x="466.60" y="309.20" width="4.60" height="4.60" fill="#FF1F1F" stroke="#FF1F1F" stroke-width="0"/>
<rect x="468.30" y="310.90" width="1.20" height="1.20" fill="#fff" stroke="none" stroke-width="0"/>
<text x="479.60" y="313.50" font-size="6.6" fill="#3a3a3a" stroke="#3a3a3a" stroke-width="0.2" font-family='"Liberation Sans", sans-serif' textLength="22.74" lengthAdjust="spacingAndGlyphs">CuFP (t)</text>
<line x1="460.00" y1="322.20" x2="477.60" y2="322.20" stroke="#16A94C" stroke-width="1.8" stroke-linecap="butt"/>
<polygon points="468.90,320.00 471.10,322.20 468.90,324.40 466.70,322.20" fill="#16A94C" stroke="#16A94C" stroke-width="0"/>
<text x="479.60" y="324.20" font-size="6.6" fill="#3a3a3a" stroke="#3a3a3a" stroke-width="0.2" font-family='"Liberation Sans", sans-serif' textLength="23.08" lengthAdjust="spacingAndGlyphs">CuFP (r)</text>
<line x1="460.00" y1="332.70" x2="477.60" y2="332.70" stroke="#38B4E8" stroke-width="1.8" stroke-linecap="butt"/>
<circle cx="468.90" cy="332.70" r="2.1" fill="#1F9AD6" stroke="none" stroke-width="0"/>
<text x="479.60" y="334.70" font-size="6.6" fill="#3a3a3a" stroke="#3a3a3a" stroke-width="0.2" font-family='"Liberation Sans", sans-serif' textLength="26.57" lengthAdjust="spacingAndGlyphs">Vendor IP</text>
<line x1="460.00" y1="343.30" x2="477.60" y2="343.30" stroke="#FFBE14" stroke-width="1.8" stroke-linecap="butt"/>
<circle cx="468.90" cy="343.30" r="2.1" fill="#FFBE14" stroke="none" stroke-width="0"/>
<text x="479.60" y="345.30" font-size="6.6" fill="#3a3a3a" stroke="#3a3a3a" stroke-width="0.2" font-family='"Liberation Sans", sans-serif' textLength="21.52" lengthAdjust="spacingAndGlyphs">Flopoco</text>
<line x1="460.00" y1="353.60" x2="461.50" y2="353.60" stroke="#921A9E" stroke-width="1.8" stroke-linecap="butt"/>
<line x1="463.10" y1="353.60" x2="464.60" y2="353.60" stroke="#921A9E" stroke-width="1.8" stroke-linecap="butt"/>
<line x1="471.50" y1="353.60" x2="473.00" y2="353.60" stroke="#921A9E" stroke-width="1.8" stroke-linecap="butt"/>
<line x1="474.60" y1="353.60" x2="476.10" y2="353.60" stroke="#921A9E" stroke-width="1.8" stroke-linecap="butt"/>
<circle cx="468.90" cy="353.60" r="2.2" fill="#921A9E" stroke="none" stroke-width="0"/>
<text x="479.60" y="355.60" font-size="6.6" fill="#3a3a3a" stroke="#3a3a3a" stroke-width="0.2" font-family='"Liberation Sans", sans-serif' textLength="45.06" lengthAdjust="spacingAndGlyphs">Fused Vector FP</text>
<text x="136.1" y="194.2" font-size="12.8" text-anchor="middle" fill="#111" font-family='"Liberation Serif", serif'>(<tspan font-weight="bold">a</tspan>)</text>
<text x="414.2" y="194.2" font-size="12.8" text-anchor="middle" fill="#111" font-family='"Liberation Serif", serif'>(<tspan font-weight="bold">b</tspan>)</text>
<text x="136.1" y="404.5" font-size="12.8" text-anchor="middle" fill="#111" font-family='"Liberation Serif", serif'>(<tspan font-weight="bold">c</tspan>)</text>
<text x="414.5" y="404.5" font-size="12.8" text-anchor="middle" fill="#111" font-family='"Liberation Serif", serif'>(<tspan font-weight="bold">d</tspan>)</text>
</svg>
</body></html>
